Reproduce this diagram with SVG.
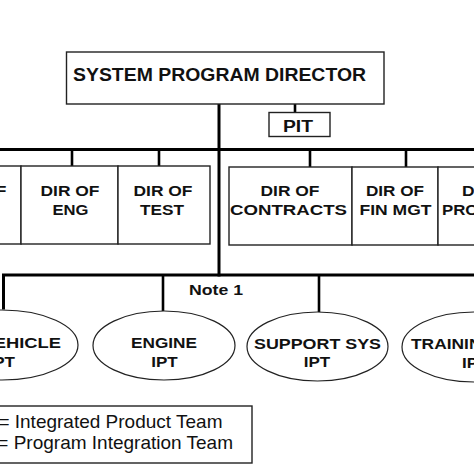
<svg xmlns="http://www.w3.org/2000/svg" width="474" height="474" viewBox="0 0 474 474">
<style>
.bg{fill:#fff}
.box{fill:#fff;stroke:#222;stroke-width:1.4}
.ell{fill:#fff;stroke:#222;stroke-width:1.2}
.bus{fill:none;stroke:#000;stroke-width:3;stroke-linecap:square}
.drop{fill:none;stroke:#000;stroke-width:2.6}
.t{font-family:"Liberation Sans",Arial,sans-serif;font-weight:bold;fill:#111}
.r{font-family:"Liberation Sans",Arial,sans-serif;fill:#111}
</style>
<rect class="bg" x="0" y="0" width="474" height="474"/>
<g id="connectors">
<path class="bus" d="M219,104 V275"/>
<path class="bus" d="M0,149.5 H474"/>
<path class="bus" d="M3.5,308 V275 H474"/>
<path class="drop" d="M295,104 V112"/>
<path class="drop" d="M72,149 V166"/>
<path class="drop" d="M159,149 V166"/>
<path class="drop" d="M310,149 V167"/>
<path class="drop" d="M406,149 V167"/>
<path class="drop" d="M163,275 V311"/>
<path class="drop" d="M319,275 V312"/>
</g>
<g id="director">
<rect class="box" x="66.5" y="52" width="317.5" height="52"/>
<text class="t" x="73" y="81" font-size="18" textLength="293" lengthAdjust="spacingAndGlyphs">SYSTEM PROGRAM DIRECTOR</text>
</g>
<g id="pit">
<rect class="box" x="269" y="112.5" width="61" height="24"/>
<text class="t" x="298" y="131.5" font-size="16" text-anchor="middle" textLength="30" lengthAdjust="spacingAndGlyphs">PIT</text>
</g>
<g id="dir-first">
<rect class="box" x="-60" y="166" width="81" height="78"/>
<text class="t" x="-23" y="196" font-size="14" text-anchor="middle" textLength="59" lengthAdjust="spacingAndGlyphs">DIR OF</text>
</g>
<g id="dir-eng">
<rect class="box" x="21" y="166" width="97" height="78"/>
<text class="t" x="70" y="196" font-size="14" text-anchor="middle" textLength="59" lengthAdjust="spacingAndGlyphs">DIR OF</text>
<text class="t" x="70.5" y="214.5" font-size="14" text-anchor="middle" textLength="36" lengthAdjust="spacingAndGlyphs">ENG</text>
</g>
<g id="dir-test">
<rect class="box" x="118" y="166" width="92" height="78"/>
<text class="t" x="163" y="196" font-size="14" text-anchor="middle" textLength="59" lengthAdjust="spacingAndGlyphs">DIR OF</text>
<text class="t" x="162" y="214.5" font-size="14" text-anchor="middle" textLength="44" lengthAdjust="spacingAndGlyphs">TEST</text>
</g>
<g id="dir-contracts">
<rect class="box" x="229" y="167" width="123" height="78"/>
<text class="t" x="290" y="196" font-size="14" text-anchor="middle" textLength="59" lengthAdjust="spacingAndGlyphs">DIR OF</text>
<text class="t" x="288.5" y="214.5" font-size="14" text-anchor="middle" textLength="117" lengthAdjust="spacingAndGlyphs">CONTRACTS</text>
</g>
<g id="dir-finmgt">
<rect class="box" x="352" y="167" width="86" height="78"/>
<text class="t" x="395" y="196" font-size="14" text-anchor="middle" textLength="58" lengthAdjust="spacingAndGlyphs">DIR OF</text>
<text class="t" x="395.5" y="214.5" font-size="14" text-anchor="middle" textLength="72" lengthAdjust="spacingAndGlyphs">FIN MGT</text>
</g>
<g id="dir-programs">
<rect class="box" x="438" y="167" width="100" height="78"/>
<text class="t" x="491.5" y="196" font-size="14" text-anchor="middle" textLength="59" lengthAdjust="spacingAndGlyphs">DIR OF</text>
<text class="t" x="491.5" y="214.5" font-size="14" text-anchor="middle" textLength="99" lengthAdjust="spacingAndGlyphs">PROGRAMS</text>
</g>
<g id="note1">
<text class="t" x="216" y="295" font-size="15" text-anchor="middle" textLength="54" lengthAdjust="spacingAndGlyphs">Note 1</text>
</g>
<g id="vehicle-ipt">
<ellipse class="ell" cx="2" cy="345" rx="76" ry="35"/>
<text class="t" x="61" y="348" font-size="15.5" text-anchor="end" textLength="116" lengthAdjust="spacingAndGlyphs">AIR VEHICLE</text>
<text class="t" x="15" y="366.5" font-size="15.5" text-anchor="end" textLength="26.5" lengthAdjust="spacingAndGlyphs">IPT</text>
</g>
<g id="engine-ipt">
<ellipse class="ell" cx="164" cy="345.5" rx="71" ry="34.5"/>
<text class="t" x="164" y="348" font-size="15.5" text-anchor="middle" textLength="66" lengthAdjust="spacingAndGlyphs">ENGINE</text>
<text class="t" x="164.5" y="366.5" font-size="15.5" text-anchor="middle" textLength="26.5" lengthAdjust="spacingAndGlyphs">IPT</text>
</g>
<g id="support-ipt">
<ellipse class="ell" cx="317.5" cy="346.5" rx="70.5" ry="34.5"/>
<text class="t" x="317.5" y="348.5" font-size="15.5" text-anchor="middle" textLength="127" lengthAdjust="spacingAndGlyphs">SUPPORT SYS</text>
<text class="t" x="317" y="367" font-size="15.5" text-anchor="middle" textLength="26.5" lengthAdjust="spacingAndGlyphs">IPT</text>
</g>
<g id="training-ipt">
<ellipse class="ell" cx="474" cy="347" rx="72" ry="35"/>
<text class="t" x="411" y="349" font-size="15.5" textLength="84" lengthAdjust="spacingAndGlyphs">TRAINING</text>
<text class="t" x="462" y="367.5" font-size="15.5" textLength="26.5" lengthAdjust="spacingAndGlyphs">IPT</text>
</g>
<g id="legend">
<rect class="box" x="-60" y="406" width="312" height="57"/>
<text class="r" x="222.5" y="428" font-size="19" text-anchor="end">IPT = Integrated Product Team</text>
<text class="r" x="233" y="448.5" font-size="19" text-anchor="end">PIT = Program Integration Team</text>
</g>
</svg>
